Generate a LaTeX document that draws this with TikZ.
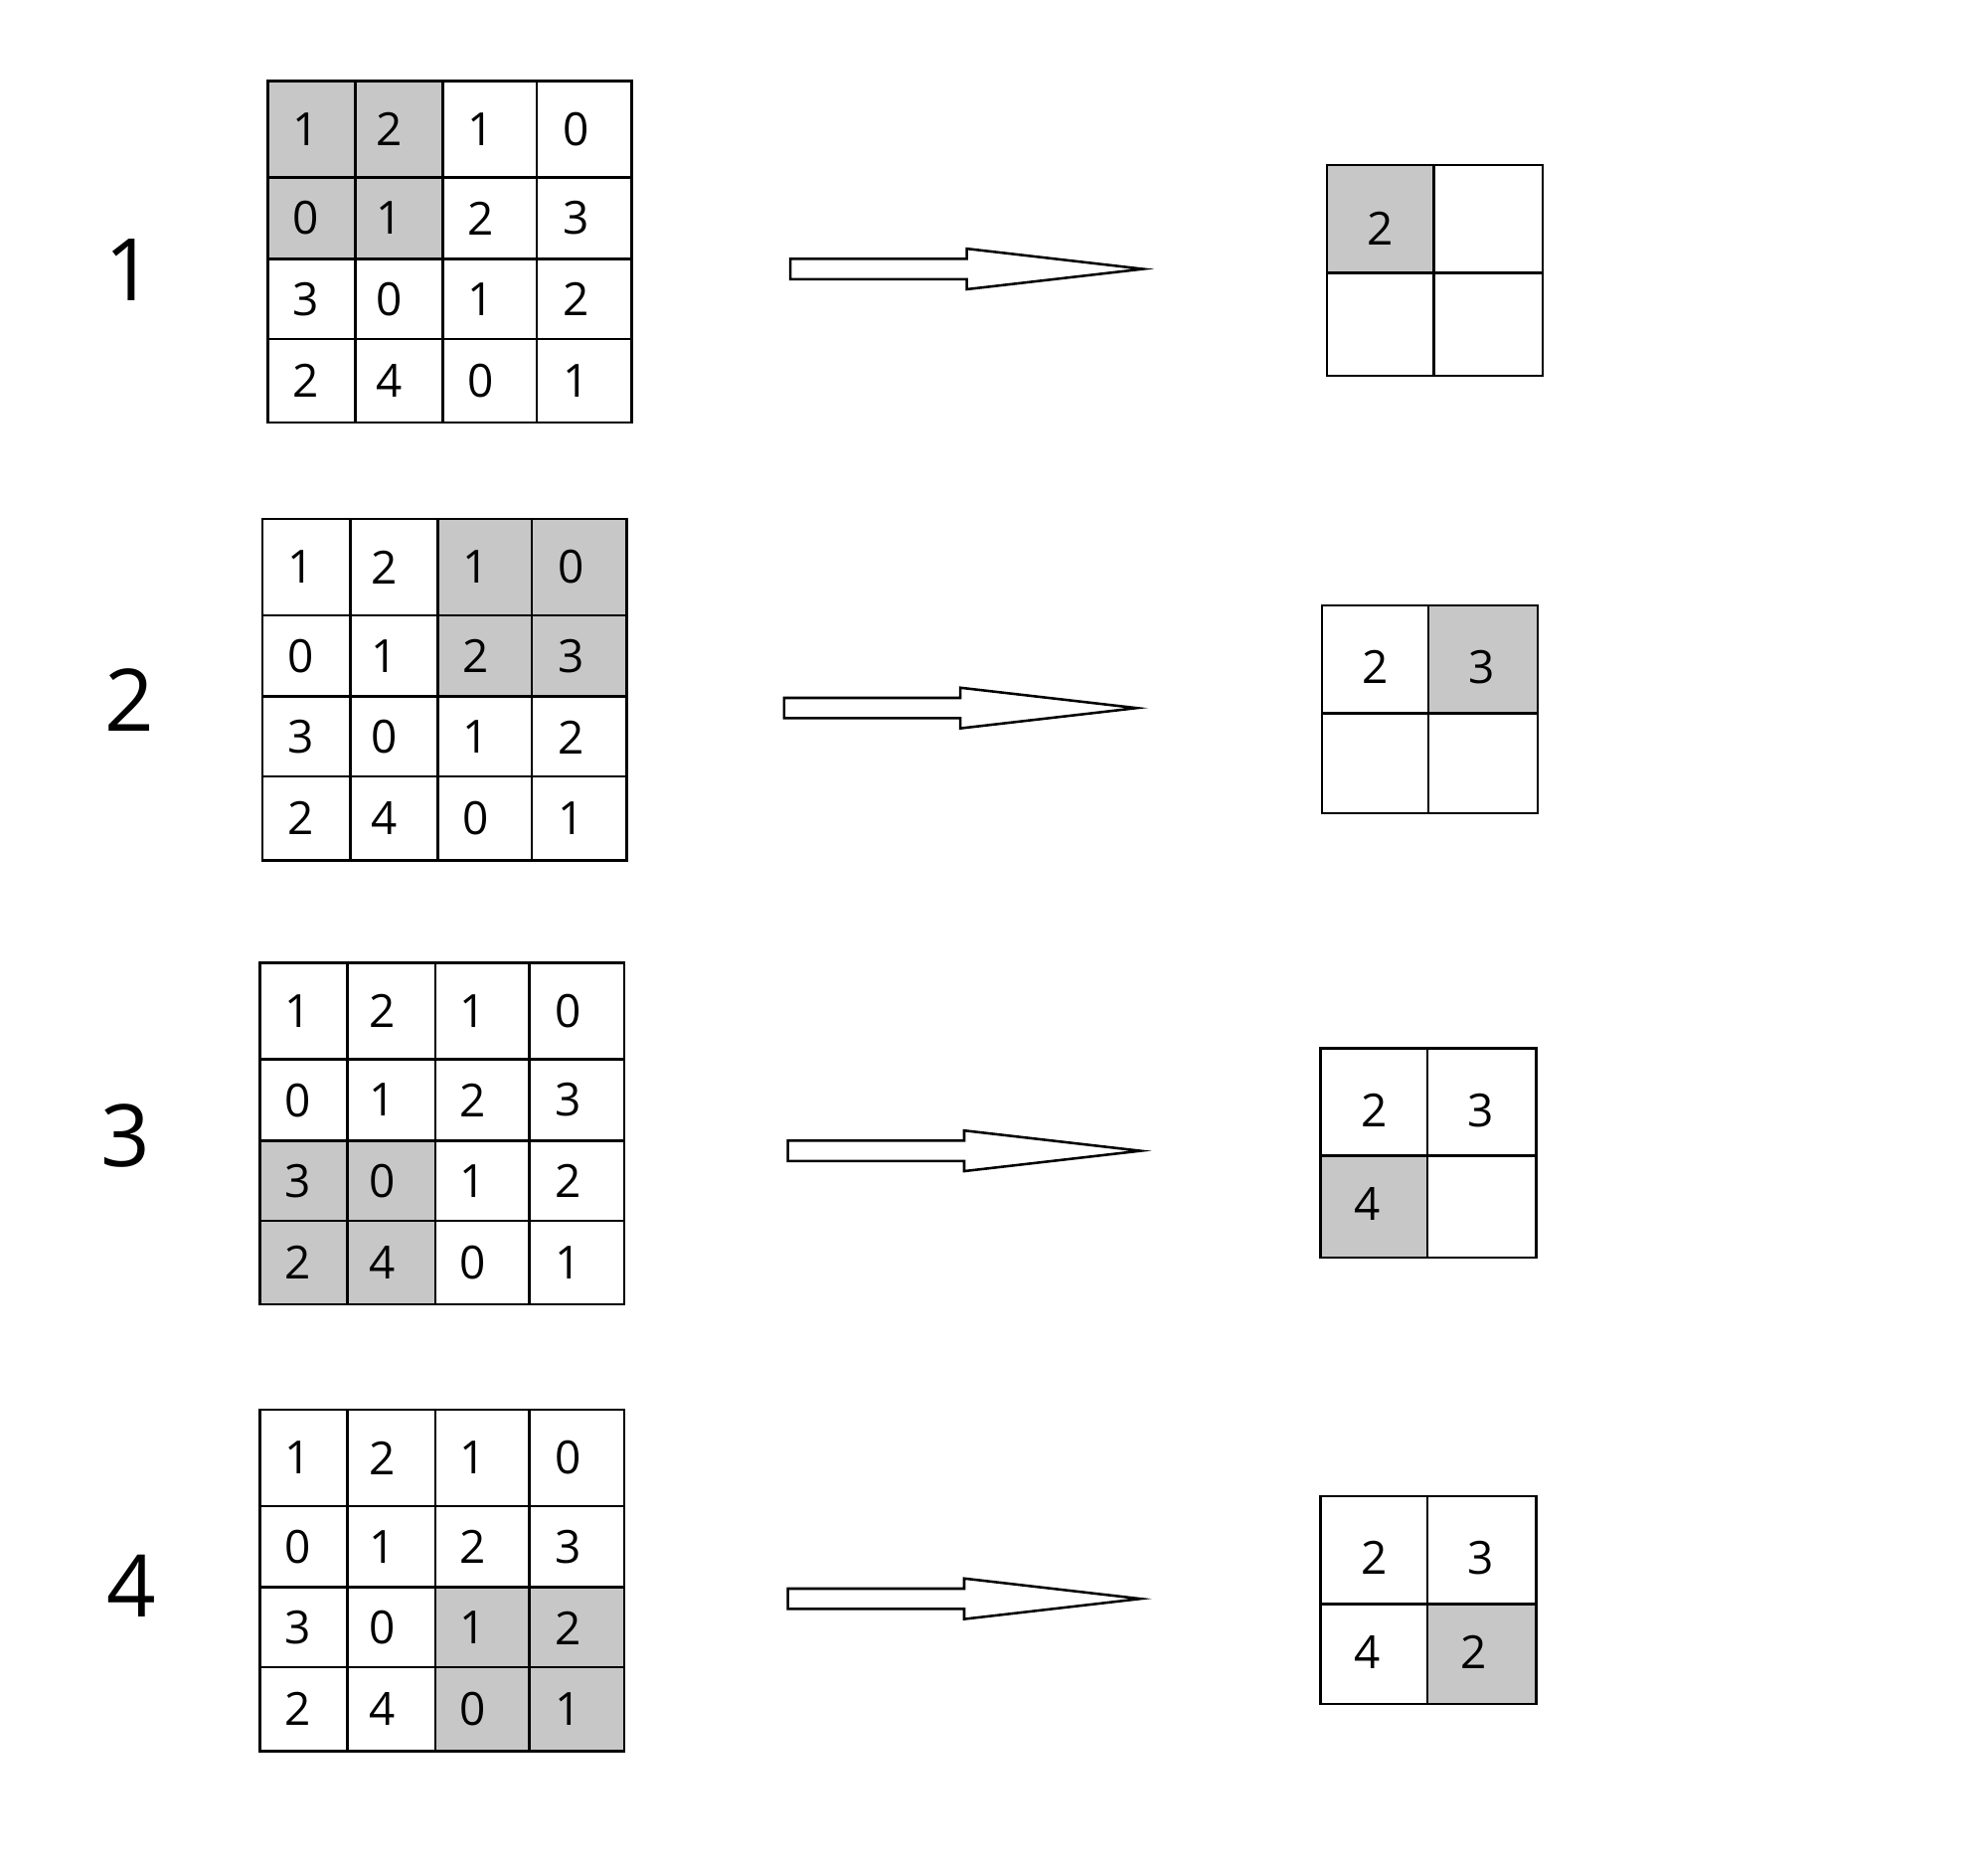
\documentclass[tikz,border=0pt]{standalone}
\usepackage{fontspec}
\setmainfont{Open Sans}
\tikzset{cellnum/.style={font=\fontsize{18}{20}\selectfont,inner sep=0pt},
 biglabel/.style={font=\fontsize{34}{38}\selectfont,inner sep=0pt},
 gridline/.style={line width=1pt,black},
 shade/.style={fill=black!22},
 arrowshape/.style={draw=black,line width=1pt,fill=white}}
\newcommand\BigGrid[6]{%
\begin{scope}[shift={(#1,#2)}]
\fill[shade] (#3,#4) rectangle (#5,#6);
\draw[gridline] (0,0) rectangle (287,269);
\foreach \c in {69,138,212} \draw[gridline] (\c,0) -- (\c,269);
\foreach \r in {76,140,203} \draw[gridline] (0,\r) -- (287,\r);
\foreach \v [count=\i from 0] in {1,2,1,0,0,1,2,3,3,0,1,2,2,4,0,1}{
 \pgfmathtruncatemacro\cc{mod(\i,4)}
 \pgfmathtruncatemacro\rr{div(\i,4)}
 \pgfmathsetmacro\xx{{30,96,168,243}[\cc]}
 \pgfmathsetmacro\yy{{38,108,172,236}[\rr]}
 \node[cellnum] (c\i) at (\xx,\yy) {\v};}
\end{scope}}
\newcommand\Arrow[2]{%
\draw[arrowshape] (623,#2-8) -- (762,#2-8) -- (762,#2-16) -- (901,#2) -- (762,#2+16) -- (762,#2+8) -- (623,#2+8) -- cycle;}
\begin{document}
\begin{tikzpicture}[x=0.5pt,y=-0.5pt]
\useasboundingbox[fill=white] (0,0) rectangle (1567,1471);
\node[biglabel] (l1) at (102,213) {1};
\node[biglabel] (l2) at (102,552) {2};
\node[biglabel] (l3) at (99,895) {3};
\node[biglabel] (l4) at (104,1250) {4};
\BigGrid{211}{64}{0}{0}{138}{140}
\BigGrid{207}{409}{138}{0}{287}{140}
\BigGrid{205}{759}{0}{140}{138}{269}
\BigGrid{205}{1111}{138}{140}{287}{269}
\Arrow{5}{212}
\begin{scope}[xshift=-2.5]\Arrow{0}{558}\end{scope}
\begin{scope}[xshift=-1]\Arrow{0}{907}\end{scope}
\begin{scope}[xshift=-1]\Arrow{0}{1260}\end{scope}
% small grids
\fill[shade] (1046,130) rectangle (1130,215);
\draw[gridline] (1046,130) rectangle (1216,296) (1130,130)--(1130,296) (1046,215)--(1216,215);
\node[cellnum] (s1a) at (1088,180) {2};
\fill[shade] (1126,477) rectangle (1212,562);
\draw[gridline] (1042,477) rectangle (1212,641) (1126,477)--(1126,641) (1042,562)--(1212,562);
\node[cellnum] (s2a) at (1084,526) {2};
\node[cellnum] (s2b) at (1168,526) {3};
\fill[shade] (1041,911) rectangle (1125,991);
\draw[gridline] (1041,826) rectangle (1211,991) (1125,826)--(1125,991) (1041,911)--(1211,911);
\node[cellnum] (s3a) at (1083,875) {2};
\node[cellnum] (s3b) at (1167,875) {3};
\node[cellnum] (s3c) at (1078,949) {4};
\fill[shade] (1125,1264) rectangle (1211,1343);
\draw[gridline] (1041,1179) rectangle (1211,1343) (1125,1179)--(1125,1343) (1041,1264)--(1211,1264);
\node[cellnum] (s4a) at (1083,1228) {2};
\node[cellnum] (s4b) at (1167,1228) {3};
\node[cellnum] (s4c) at (1078,1302) {4};
\node[cellnum] (s4d) at (1162,1302) {2};
\end{tikzpicture}
\end{document}
